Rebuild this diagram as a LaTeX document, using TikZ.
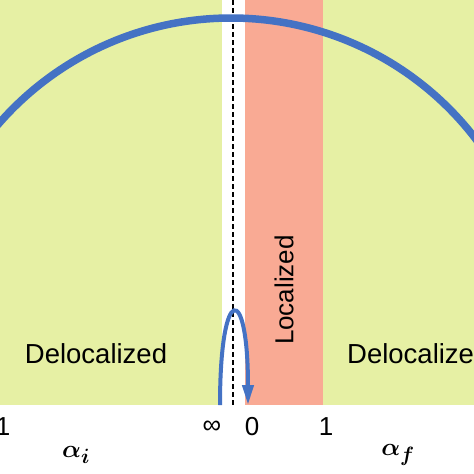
\documentclass[tikz,border=0pt]{standalone}
\usepackage{fontspec}
\setmainfont{Liberation Sans}
\usepackage{bm}
\usetikzlibrary{arrows.meta}
\definecolor{grn}{RGB}{230,240,164}
\definecolor{sal}{RGB}{249,170,148}
\definecolor{arcblue}{RGB}{68,114,196}
\begin{document}
\begin{tikzpicture}[x=1pt,y=-1pt,
  lbl/.style={font=\fontsize{26}{30}\selectfont, inner sep=0pt},
  biglbl/.style={font=\fontsize{27.5}{32}\selectfont, inner sep=0pt},
  mlbl/.style={font=\fontsize{32}{36}\selectfont, inner sep=0pt},
  bluearc/.style={arcblue, line width=7.5pt},
  smallarrow/.style={arcblue, line width=4pt, -{Triangle[length=20pt,width=11pt]}},
  divider/.style={black, line width=2pt, dash pattern=on 5pt off 3pt}]
\useasboundingbox (0,0) rectangle (474,474);
\clip (0,0) rectangle (474,474);
\fill[white] (0,0) rectangle (474,474);
\fill[grn] (0,0) rectangle (222,405);
\fill[grn] (323,0) rectangle (474,405);
\fill[sal] (245,0) rectangle (323,405);
\coordinate (dtop) at (233,0);
\coordinate (dbot) at (233,405);
\draw[divider] (dtop) -- (dbot);
\draw[bluearc] plot[domain=-10:484, samples=120, smooth] (\x, {326 - 308*sqrt(1-((\x-231)/308)^2)});
\coordinate (ls) at (220,405);
\coordinate (le) at (248,405);
\draw[smallarrow] (ls) .. controls (220,282) and (248,282) .. (le);
\node[lbl] (onel) at (3,427) {1};
\node[lbl] (inf) at (212,427) {∞};
\node[lbl] (zero) at (252,427) {0};
\node[lbl] (oner) at (326,427) {1};
\node[biglbl, anchor=base] (delocl) at (96,363) {Delocalized};
\node[biglbl, anchor=base west] (delocr) at (347,363) {Delocalized};
\node[lbl, rotate=90] (loc) at (284,290) {Localized};
\node[mlbl] (ai) at (76,455) {$\bm{\alpha}_{\bm{i}}$};
\node[mlbl] (af) at (398,455) {$\bm{\alpha}_{\bm{f}}$};
\end{tikzpicture}
\end{document}
